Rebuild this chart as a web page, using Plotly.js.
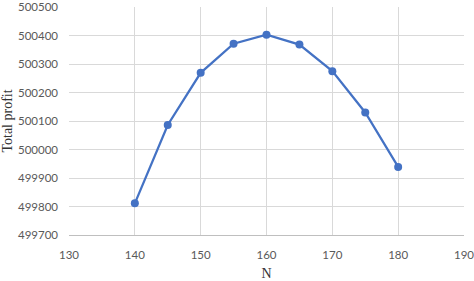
<!DOCTYPE html>
<html>
<head>
<meta charset="utf-8">
<script src="https://cdn.plot.ly/plotly-3.0.1.min.js"></script>
<style>html,body{margin:0;padding:0;background:#fff;}#chart{width:474px;height:281px;}</style>
</head>
<body>
<div id="chart"></div>
<script>
const nValues = [140, 145, 150, 155, 160, 165, 170, 175, 180];
const totalProfit = [499811, 500086, 500269, 500371, 500403, 500368, 500275, 500130, 499939];
const xTicks = [130, 140, 150, 160, 170, 180, 190];
const yTicks = [499700, 499800, 499900, 500000, 500100, 500200, 500300, 500400, 500500];

const trace = {
  x: nValues,
  y: totalProfit,
  type: 'scatter',
  mode: 'lines+markers',
  line: {color: '#4472C4', width: 2.25},
  marker: {color: '#4472C4', size: 8},
  hoverinfo: 'none',
  cliponaxis: false
};

const tickFont = {family: 'Lato, "Liberation Sans", sans-serif', size: 11.5, color: '#595959'};
const titleFont = {family: '"Liberation Serif", "Times New Roman", serif', size: 14, color: '#333'};

const layout = {
  width: 474,
  height: 281,
  margin: {l: 69, r: 10, t: 7, b: 46},
  paper_bgcolor: '#fff',
  plot_bgcolor: '#fff',
  showlegend: false,
  xaxis: {
    range: [129.999, 190.001],
    tickvals: xTicks,
    ticktext: xTicks.map(String),
    showgrid: true,
    gridcolor: '#d9d9d9',
    gridwidth: 1,
    zeroline: false,
    showline: true,
    linecolor: '#bfbfbf',
    linewidth: 1,
    ticks: '',
    ticklabelstandoff: 9,
    ticklabeloverflow: 'allow',
    automargin: false,
    tickfont: tickFont,
    title: {text: 'N', font: titleFont, standoff: 10}
  },
  yaxis: {
    range: [499699.99, 500500.01],
    tickvals: yTicks,
    ticktext: yTicks.map(String),
    showgrid: true,
    gridcolor: '#d9d9d9',
    gridwidth: 1,
    zeroline: false,
    showline: false,
    ticks: '',
    ticklabelstandoff: 10,
    ticklabeloverflow: 'allow',
    automargin: false,
    tickfont: tickFont,
    title: {text: 'Total profit', font: titleFont, standoff: 6}
  }
};

Plotly.newPlot('chart', [trace], layout, {displayModeBar: false, staticPlot: true});
</script>
</body>
</html>
